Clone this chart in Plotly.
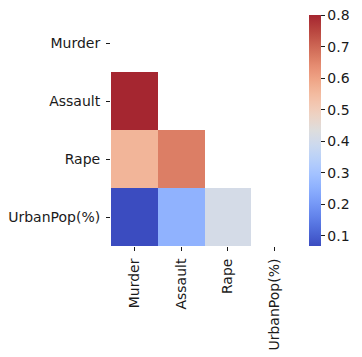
import plotly.graph_objects as go

labels = ["Murder", "Assault", "Rape", "UrbanPop(%)"]
# lower-triangle correlations (upper triangle incl. diagonal masked)
row_murder = [None, None, None, None]
row_assault = [0.8019, None, None, None]
row_rape = [0.5636, 0.6652, None, None]
row_urbanpop = [0.0696, 0.2589, 0.4113, None]
cbar_ticks = [0.1, 0.2, 0.3, 0.4, 0.5, 0.6, 0.7, 0.8]

z = [row_murder, row_assault, row_rape, row_urbanpop]

cw = [
    (59, 76, 192), (68, 90, 204), (77, 104, 215), (87, 117, 225), (98, 130, 234),
    (108, 142, 241), (119, 154, 247), (130, 165, 251), (141, 176, 254), (152, 185, 255),
    (163, 194, 255), (174, 201, 253), (184, 208, 249), (194, 213, 244), (204, 217, 238),
    (213, 219, 230), (221, 221, 221), (229, 216, 209), (236, 211, 197), (241, 204, 185),
    (243, 196, 173), (243, 187, 160), (241, 177, 148), (239, 165, 135), (235, 152, 124),
    (229, 140, 113), (220, 126, 101), (211, 112, 91), (202, 97, 81), (192, 82, 71),
    (183, 67, 62), (174, 52, 55), (165, 38, 48),
]
n = len(cw) - 1
colorscale = [[i / n, "rgb(%d,%d,%d)" % c] for i, c in enumerate(cw)]

vals = [v for r in z for v in r if v is not None]

FONT = dict(family="DejaVu Sans", size=14, color="#1a1a1a")

fig = go.Figure(go.Heatmap(
    z=z, x=labels, y=labels,
    colorscale=colorscale, zmin=min(vals), zmax=max(vals),
    hoverongaps=False,
    colorbar=dict(
        x=(309 - 111) / 187, xanchor="left", xref="paper", xpad=0,
        y=0.5, yanchor="middle", ypad=0,
        len=231, lenmode="pixels",
        thickness=12, outlinewidth=0,
        tickvals=cbar_ticks, ticktext=["%.1f" % t for t in cbar_ticks],
        ticks="outside", ticklen=4, tickcolor="#1a1a1a",
        tickfont=FONT,
    ),
))

fig.update_layout(
    width=362, height=357,
    margin=dict(l=111, r=64, t=14, b=111, autoexpand=False),
    paper_bgcolor="white", plot_bgcolor="white",
    font=FONT,
)
fig.update_xaxes(
    type="category", tickangle=-90, ticks="outside", ticklen=4, tickcolor="#1a1a1a",
    showgrid=False, zeroline=False, showline=False, automargin=False,
    ticklabelstandoff=2, tickfont=FONT,
)
fig.update_yaxes(
    type="category", autorange="reversed", ticks="outside", ticklen=4, tickcolor="#1a1a1a",
    showgrid=False, zeroline=False, showline=False, automargin=False,
    ticklabelstandoff=3, tickfont=FONT,
)

fig.write_html("out.html", config={"displayModeBar": False},
               post_script="document.body.style.margin='0px';")
